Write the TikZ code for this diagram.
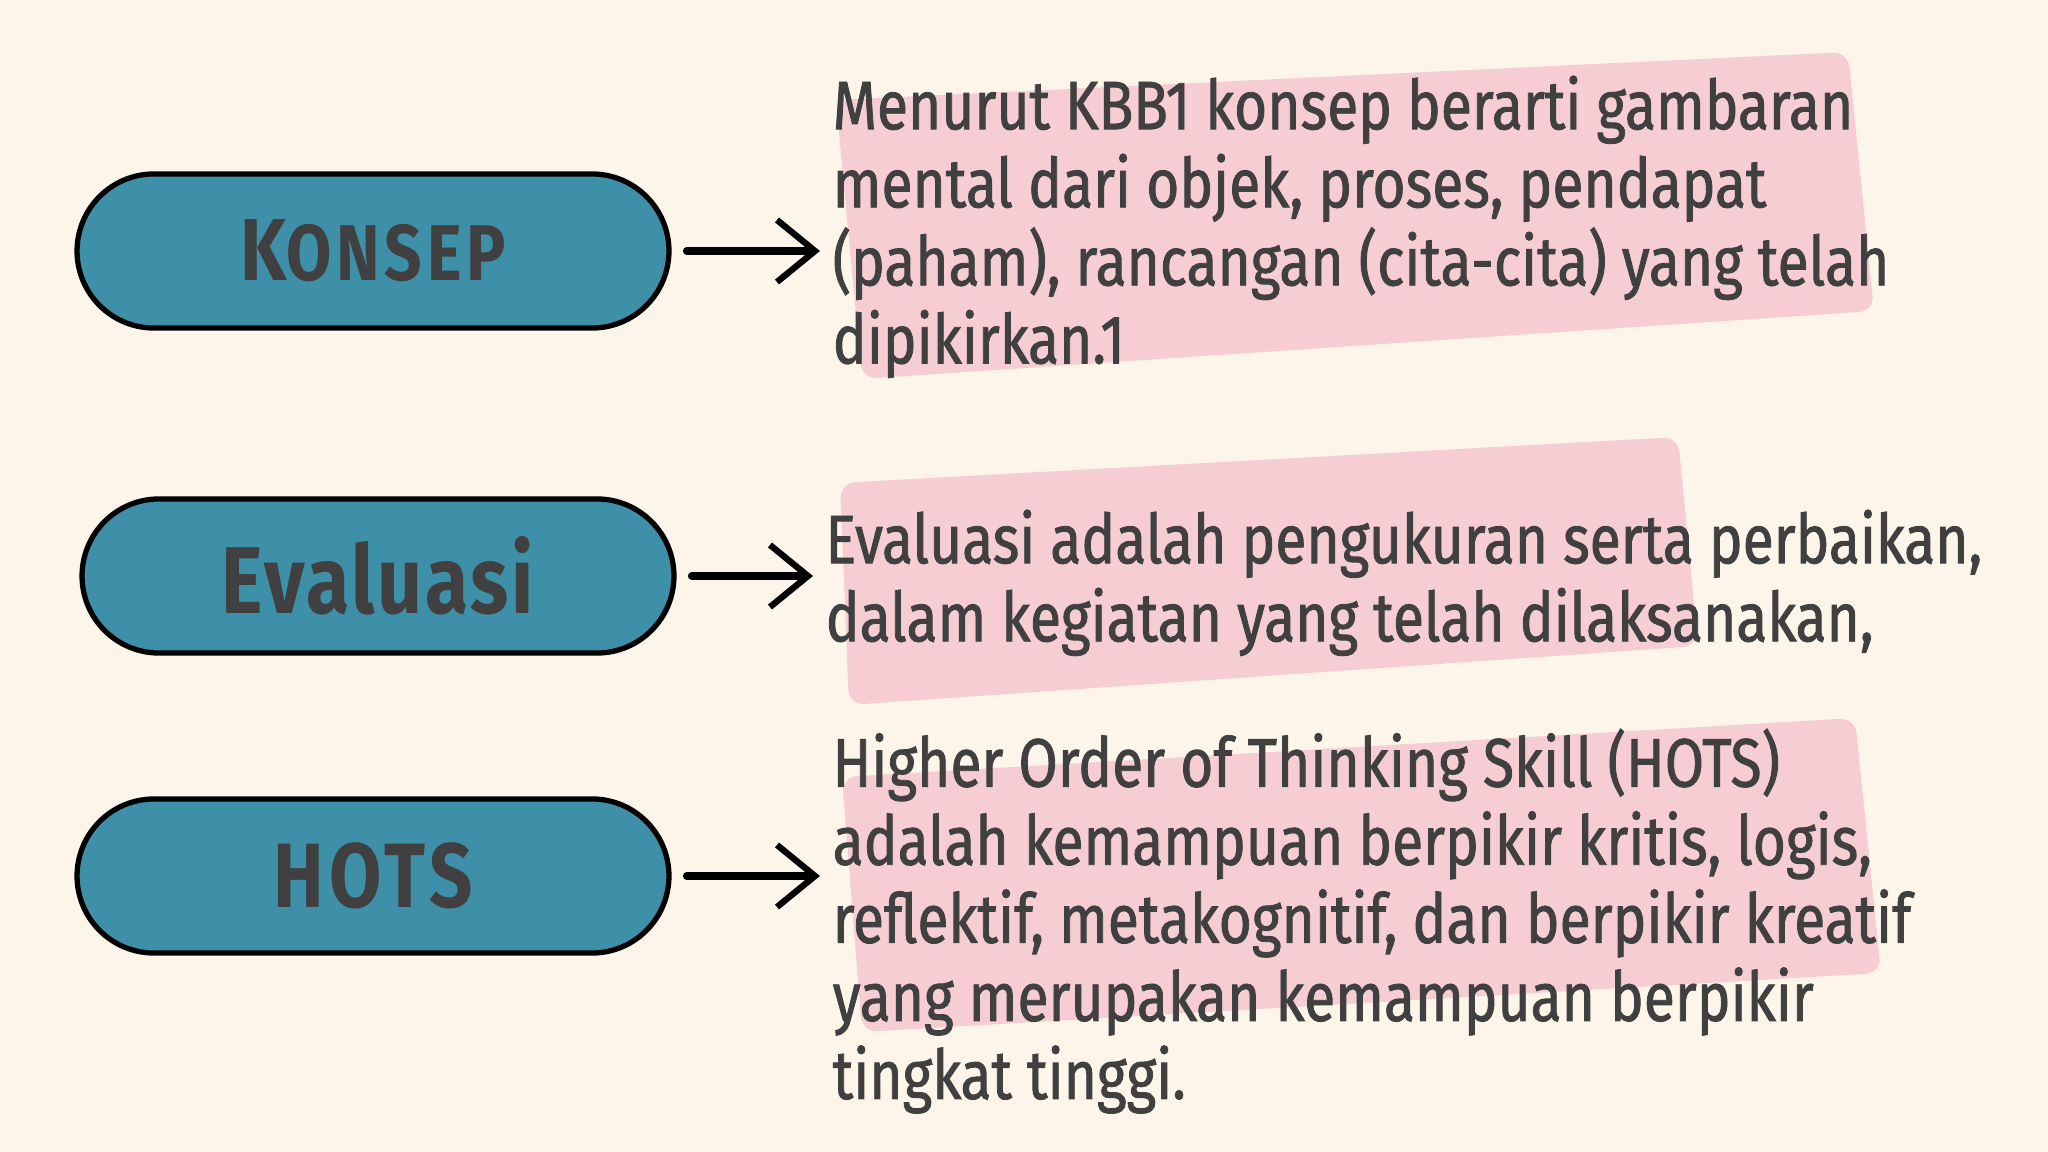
\documentclass[tikz,border=0pt]{standalone}
\usepackage{fontspec}
\setmainfont{Fira Sans}[FakeStretch=0.83]
\usetikzlibrary{shapes.misc,arrows.meta}
\definecolor{cream}{HTML}{FDF5EA}
\definecolor{pinkhl}{HTML}{F6CDD3}
\definecolor{teal}{HTML}{3D90A8}
\definecolor{inkgray}{HTML}{404040}
\begin{document}
\begin{tikzpicture}[x=0.01cm,y=-0.01cm,pill_node/.style={rounded rectangle,fill=teal,draw=black,line width=1.5pt,minimum width=6.15cm,minimum height=1.54cm,text=inkgray,font=\bfseries},text_node/.style={anchor=north west,inner sep=0pt,align=left,text=inkgray,font=\fontsize{19.5}{22.2}\selectfont\addfontfeature{FakeBold=1.2}},arrow_line/.style={line width=2.1pt,line cap=round,shorten <=0.15cm,shorten >=0.12cm,-{Straight Barb[length=3.8mm,width=6.2mm,line width=1.8pt]}}]
		
		\fill[cream] (0,0) rectangle (2048,1152);
		
		% highlights
		\fill[pinkhl,rounded corners=0.15cm] (836,100) -- (1848,52) -- (1874,311) -- (862,379) -- cycle;
		\fill[pinkhl,rounded corners=0.15cm] (840,483) -- (1678,437) -- (1698,646) -- (849,705) -- cycle;
		\fill[pinkhl,rounded corners=0.15cm] (842,777) -- (1855,718) -- (1881,973) -- (862,1032) -- cycle;
		
		\node[pill_node] (konsep) at (373,251) {\fontsize{25}{25}\selectfont\addfontfeature{LetterSpace=6}K\fontsize{22.5}{22.5}\selectfont ONSEP};
		\node[pill_node] (evaluasi) at (378,576) {\fontsize{27}{27}\selectfont\addfontfeature{LetterSpace=3}Evaluasi};
		\node[pill_node] (hots) at (373,876) {\fontsize{26}{26}\selectfont\addfontfeature{LetterSpace=6}HOTS};
		
		\node[text_node] (konsep_text) at (832,75) {Menurut KBB1 konsep berarti gambaran\\mental dari objek, proses, pendapat\\(paham), rancangan (cita-cita) yang telah\\dipikirkan.1};
		\node[text_node] (evaluasi_text) at (825,509) {Evaluasi adalah pengukuran serta perbaikan,\\dalam kegiatan yang telah dilaksanakan,};
		\node[text_node] (hots_text) at (832,728) {Higher Order of Thinking Skill (HOTS)\\adalah kemampuan berpikir kritis, logis,\\reflektif, metakognitif, dan berpikir kreatif\\yang merupakan kemampuan berpikir\\tingkat tinggi.};
		
		\draw[arrow_line] (konsep.east) -- (konsep.east -| konsep_text.west);
		\draw[arrow_line] (evaluasi.east) -- (evaluasi.east -| evaluasi_text.west);
		\draw[arrow_line] (hots.east) -- (hots.east -| hots_text.west);
		\end{tikzpicture}
\end{document}
